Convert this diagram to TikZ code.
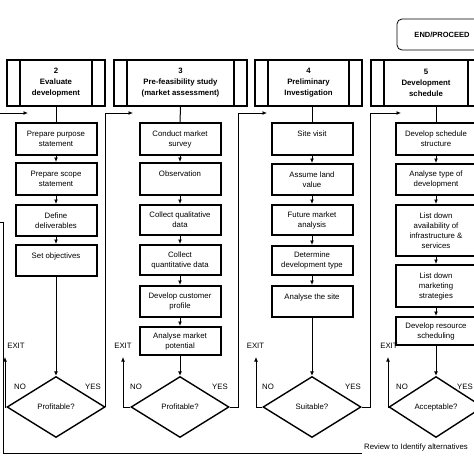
\documentclass[tikz,border=0pt]{standalone}
\usepackage{fontspec}
\setmainfont{Liberation Sans}
\usetikzlibrary{shapes.geometric,arrows.meta}
\begin{document}
\begin{tikzpicture}[x=1pt,y=-1pt,
  font=\fontsize{7.8}{10}\selectfont,
  box/.style={draw,line width=2pt,align=center,minimum width=81,inner sep=1pt},
  head/.style={draw,line width=2pt,align=center,minimum height=46,font=\fontsize{7.8}{11}\selectfont\bfseries},
  test/.style={draw,diamond,line width=1.4pt,minimum width=98,minimum height=61,inner sep=0pt},
  line/.style={line width=1pt},
  arr/.style={line,-{Latex[length=4.5pt,width=4pt]}},
  lbl/.style={inner sep=0pt}]
\useasboundingbox (0,0) rectangle (474,474);
\clip (0,0) rectangle (474,474);
% end box
\node[draw,rounded corners=5pt,line width=0.8pt,minimum width=90,minimum height=31,font=\fontsize{7.5}{9}\selectfont\bfseries] (end) at (442,34.5) {END/PROCEED};
% headers
\node[head,minimum width=98] (h2) at (56,83) {2\\Evaluate\\development};
\node[head,minimum width=133] (h3) at (180.5,83) {3\\Pre-feasibility study\\(market assessment)};
\node[head,minimum width=107] (h4) at (308.5,83) {4\\Preliminary\\Investigation};
\node[head,minimum width=110] (h5) at (426,83) {5\\Development\\schedule};
\foreach \h in {h2,h3,h4,h5}
  \draw[line width=2pt] ([xshift=14]\h.north west) -- ([xshift=14]\h.south west)
    ([xshift=-14]\h.north east) -- ([xshift=-14]\h.south east);
% column 2
\node[box,minimum height=32] (a1) at (56,139) {Prepare purpose\\statement};
\node[box,minimum height=32] (a2) at (56,179) {Prepare scope\\statement};
\node[box,minimum height=31] (a3) at (56,220.5) {Define\\deliverables};
\node[box,minimum height=31] (a4) at (56,260.5) {Set objectives\\~};
\node[test] (d1) at (56,407) {Profitable?};
% column 3
\node[box,minimum height=32] (b1) at (180,139) {Conduct market\\survey};
\node[box,minimum height=32] (b2) at (180,179) {Observation\\~};
\node[box,minimum height=30] (b3) at (180,220) {Collect qualitative\\data};
\node[box,minimum height=30] (b4) at (180,260) {Collect\\quantitative data};
\node[box,minimum height=31] (b5) at (180,301.5) {Develop customer\\profile};
\node[box,minimum height=28] (b6) at (180,341) {Analyse market\\potential};
\node[test] (d2) at (180,407) {Profitable?};
% column 4
\node[box,minimum height=32] (c1) at (312,139) {Site visit\\~};
\node[box,minimum height=31] (c2) at (312,179.5) {Assume land\\value};
\node[box,minimum height=30] (c3) at (312,220) {Future market\\analysis};
\node[box,minimum height=29] (c4) at (312,260.5) {Determine\\development type};
\node[box,minimum height=31] (c5) at (312,301.5) {Analyse the site\\~};
\node[test] (d3) at (312,407) {Suitable?};
% column 5
\node[box,minimum height=32] (e1) at (436,139) {Develop schedule\\structure};
\node[box,minimum height=31] (e2) at (436,179.5) {Analyse type of\\development};
\node[box,minimum height=51] (e3) at (436,230.5) {List down\\availability of\\infrastructure \&\\services};
\node[box,minimum height=42] (e4) at (436,286) {List down\\marketing\\strategies};
\node[box,minimum height=28] (e5) at (436,331) {Develop resource\\scheduling};
\node[test,minimum width=94] (d4) at (436,407) {Acceptable?};
% flow down
\draw[line] (h2) -- (a1);
\draw[arr] (a1) -- (a2);
\draw[arr] (a2) -- (a3);
\draw[arr] (a3) -- (a4);
\draw[arr] (a4) -- (d1);
\draw[line] (h3.south) -- (b1.north);
\draw[arr] (b1) -- (b2);
\draw[arr] (b2) -- (b3);
\draw[arr] (b3) -- (b4);
\draw[arr] (b4) -- (b5);
\draw[arr] (b5) -- (b6);
\draw[arr] (b6) -- (d2);
\draw[line] (h4.south -| c1) -- (c1.north);
\draw[arr] (c1) -- (c2);
\draw[arr] (c2) -- (c3);
\draw[arr] (c3) -- (c4);
\draw[arr] (c4) -- (c5);
\draw[arr] (c5) -- (d3);
\draw[line] (h5.south -| e1) -- (e1.north);
\draw[arr] (e1) -- (e2);
\draw[arr] (e2) -- (e3);
\draw[arr] (e3) -- (e4);
\draw[arr] (e4) -- (e5);
\draw[arr] (e5) -- (d4);
% exits
\coordinate (x1) at (5,357);
\coordinate (x2) at (123,357);
\coordinate (x3) at (256,357);
\coordinate (x4) at (388,357);
\draw[arr] (d1.west) -| (x1);
\draw[arr] (d2.west) -| (x2);
\draw[arr] (d3.west) -| (x3);
\draw[arr] (d4.west) -| (x4);
\node[lbl] at (16,346) {EXIT};
\node[lbl] at (123,346) {EXIT};
\node[lbl] at (255.5,346) {EXIT};
\node[lbl] at (389,346) {EXIT};
% yes paths
\coordinate (in1) at (-5,113);
\coordinate (t1) at (28,113);
\coordinate (t2) at (133,113);
\coordinate (t3) at (267,113);
\coordinate (t4) at (401,113);
\draw[arr] (in1) -- (t1);
\draw[arr] (d1.east) |- (t2);
\draw[arr] (d2.east) -- ++(9,0) |- (t3);
\draw[arr] (d3.east) -- ++(9,0) |- (t4);
\node[lbl] at (20,387) {NO};
\node[lbl] at (93,387) {YES};
\node[lbl] at (136,387) {NO};
\node[lbl] at (220,387) {YES};
\node[lbl] at (268,387) {NO};
\node[lbl] at (353,387) {YES};
\node[lbl] at (402,387) {NO};
\node[lbl,anchor=east] at (473,387) {YES};
% review loop
\node[lbl,anchor=south west,inner sep=2pt] (rv) at (362,453) {Review to Identify alternatives};
\coordinate (l1) at (3,222);
\coordinate (l0) at (-5,222);
\draw[line] (rv.south west) -| (l1) -- (l0);
\end{tikzpicture}
\end{document}
